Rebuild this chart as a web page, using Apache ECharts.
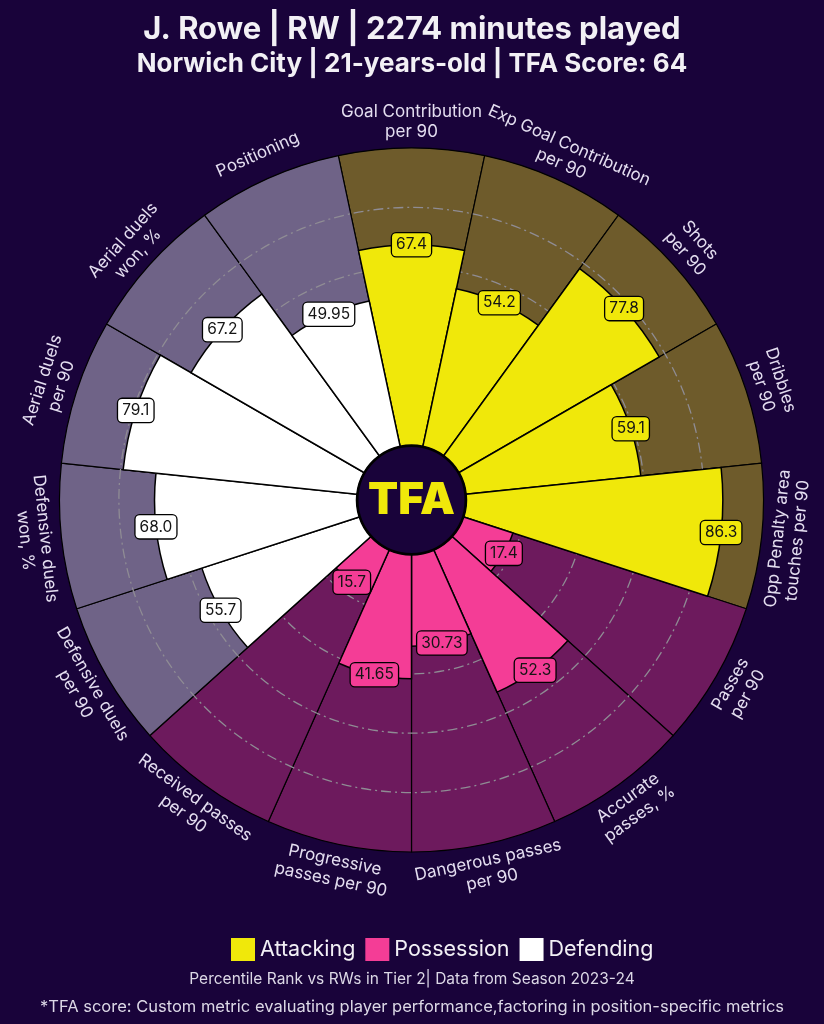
<!DOCTYPE html>
<html>
<head>
<meta charset="utf-8">
<script src="https://cdn.jsdelivr.net/npm/echarts@6/dist/echarts.min.js"></script>
<style>
  html, body { margin: 0; padding: 0; background: #19033a; }
  #chart { width: 824px; height: 1024px; }
</style>
</head>
<body>
<div id="chart"></div>
<script>
// 指标名称（顺时针，从正上方开始）
const categories = [
  'Goal Contribution\nper 90', 'Exp Goal Contribution\nper 90', 'Shots\nper 90', 'Dribbles\nper 90',
  'Opp Penalty area\ntouches per 90', 'Passes\nper 90', 'Accurate\npasses, %', 'Dangerous passes\nper 90',
  'Progressive\npasses per 90', 'Received passes\nper 90', 'Defensive duels\nper 90', 'Defensive duels\nwon, %',
  'Aerial duels\nper 90', 'Aerial duels\nwon, %', 'Positioning'
];
// 百分位数值
const values = [67.4, 54.2, 77.8, 59.1, 86.3, 17.4, 52.3, 30.73, 41.65, 15.7, 55.7, 68.0, 79.1, 67.2, 49.95];
const groups = [
  'Attacking', 'Attacking', 'Attacking', 'Attacking', 'Attacking',
  'Possession', 'Possession', 'Possession', 'Possession', 'Possession',
  'Defending', 'Defending', 'Defending', 'Defending', 'Defending'
];
const groupNames = ['Attacking', 'Possession', 'Defending'];
const gridTicks = [0, 20, 40, 60, 80];   // 虚线圆
const fullValue = 100;                   // 背景扇区
const labelValue = 108.8;                // 指标名称所在半径

const fillColor = { Attacking: '#f0e80a', Possession: '#f43d96', Defending: '#ffffff' };
const backColor = { Attacking: '#6e5b2b', Possession: '#6d1a5d', Defending: '#6f6387' };
const bg = '#19033a';
const labelColor = '#e4def0';

// 半径换算：0 在内圈 55px，100 在 352px
const R0 = 55, R100 = 352;
const rAt = v => R0 + (R100 - R0) * v / 100;

const fmt = v => (Math.abs(Math.round(v * 10) - v * 10) > 1e-6 ? v.toFixed(2) : v.toFixed(1));

// 文字旋转：沿切线方向，下半部翻转
function tangentRotate(i) {
  let a = i * 360 / categories.length;
  if (a > 180) a -= 360;
  if (Math.abs(a) <= 90) return -a;
  return a > 0 ? 180 - a : -(a + 180);
}

const center = [411.5, 500];
const startAngle = 90 + 180 / categories.length;

const chart = echarts.init(document.getElementById('chart'));

chart.setOption({
  backgroundColor: bg,
  animation: false,
  title: [
    {
      text: 'J. Rowe | RW | 2274 minutes played',
      left: 'center', top: 9,
      textStyle: { color: '#f2f0f5', fontSize: 31, fontWeight: 'bold', fontFamily: 'Inter' }
    },
    {
      text: 'Norwich City | 21-years-old | TFA Score: 64',
      left: 'center', top: 46,
      textStyle: { color: '#f2f0f5', fontSize: 26, fontWeight: 'bold', fontFamily: 'Inter' }
    },
    {
      text: 'Percentile Rank vs RWs in Tier 2| Data from Season 2023-24',
      left: 'center', top: 966,
      textStyle: { color: '#dcd8e6', fontSize: 15.5, fontWeight: 'normal', fontFamily: 'Inter' }
    },
    {
      text: '*TFA score: Custom metric evaluating player performance,factoring in position-specific metrics',
      left: 'center', top: 994,
      textStyle: { color: '#dcd8e6', fontSize: 16.5, fontWeight: 'normal', fontFamily: 'Inter' }
    }
  ],
  legend: {
    data: groupNames,
    left: 226, top: 933,
    icon: 'rect',
    itemWidth: 24, itemHeight: 23, itemGap: 10,
    selectedMode: false,
    textStyle: { color: '#f2f0f5', fontSize: 21.5, fontFamily: 'Inter' }
  },
  polar: [
    // 0: 扇区与标签
    { center: center, radius: [R0, rAt(120)] },
    // 1: 虚线网格
    { center: center, radius: [R0, rAt(gridTicks[gridTicks.length - 1])] }
  ],
  angleAxis: [
    {
      polarIndex: 0, type: 'category', data: categories,
      startAngle: startAngle, clockwise: true, boundaryGap: true,
      axisLine: { show: false }, axisTick: { show: false },
      axisLabel: { show: false }, splitLine: { show: false }
    },
    {
      polarIndex: 1, type: 'value', min: 0, max: 360,
      axisLine: { show: false }, axisTick: { show: false },
      axisLabel: { show: false }, splitLine: { show: false }
    }
  ],
  radiusAxis: [
    {
      polarIndex: 0, type: 'value', min: 0, max: 120,
      axisLine: { show: false }, axisTick: { show: false },
      axisLabel: { show: false }, splitLine: { show: false }
    },
    {
      polarIndex: 1, type: 'value',
      min: gridTicks[0], max: gridTicks[gridTicks.length - 1], interval: 20,
      z: 2,
      axisLine: { show: false }, axisTick: { show: false }, axisLabel: { show: false },
      splitLine: {
        show: true,
        lineStyle: { color: '#8f8c94', width: 1.3, type: [10, 4, 2, 4] }
      }
    }
  ],
  series: [
    {
      type: 'bar', coordinateSystem: 'polar', polarIndex: 0, z: 1, silent: true,
      barGap: '-100%', barCategoryGap: '0%',
      data: groups.map(g => ({ value: fullValue, itemStyle: { color: backColor[g] } })),
      itemStyle: { borderColor: '#000', borderWidth: 1.2 }
    },
    {
      type: 'bar', coordinateSystem: 'polar', polarIndex: 0, z: 3, silent: true,
      barGap: '-100%', barCategoryGap: '0%',
      data: values.map((v, i) => ({ value: v, itemStyle: { color: fillColor[groups[i]] } })),
      itemStyle: { borderColor: '#000', borderWidth: 1.5 }
    },
    // 数值标签
    {
      type: 'scatter', coordinateSystem: 'polar', polarIndex: 0, z: 5, silent: true,
      symbolSize: 0.1, itemStyle: { color: 'transparent', opacity: 1 },
      data: values.map((v, i) => ({
        value: [v, i],
        label: { backgroundColor: fillColor[groups[i]] }
      })),
      label: {
        show: true, position: 'inside',
        formatter: p => fmt(p.value[0]),
        color: '#151515', fontSize: 15.5, fontFamily: 'Inter',
        borderColor: '#000', borderWidth: 1.3, borderRadius: 4,
        padding: [4, 4, 3, 4]
      }
    },
    // 指标名称
    {
      type: 'scatter', coordinateSystem: 'polar', polarIndex: 0, z: 5, silent: true,
      symbolSize: 0.1, itemStyle: { color: 'transparent', opacity: 1 },
      data: categories.map((c, i) => ({
        name: c,
        value: [labelValue, i],
        label: { rotate: tangentRotate(i) }
      })),
      label: {
        show: true, position: 'inside',
        formatter: p => p.name,
        color: labelColor, fontSize: 17, lineHeight: 20, fontFamily: 'Inter', align: 'center'
      }
    },
    // 图例占位
    ...groupNames.map(g => ({
      name: g, type: 'bar', coordinateSystem: 'polar', polarIndex: 0, data: [],
      itemStyle: { color: fillColor[g] }
    }))
  ],
  graphic: [
    {
      type: 'circle', z: 100,
      shape: { cx: center[0], cy: center[1], r: 54 },
      style: { fill: bg, stroke: '#000', lineWidth: 2 }
    },
    {
      type: 'text', z: 101,
      x: center[0], y: center[1] + 1,
      style: {
        text: 'TFA', fill: '#f0e80a', font: '900 44px Inter',
        align: 'center', verticalAlign: 'middle'
      }
    }
  ]
});
</script>
</body>
</html>
